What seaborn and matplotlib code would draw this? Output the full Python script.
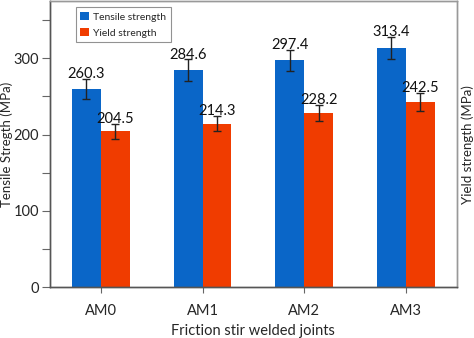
import matplotlib
matplotlib.use("Agg")
import matplotlib.pyplot as plt
from matplotlib.ticker import MultipleLocator
import seaborn as sns
import pandas as pd

# Joint designations and measured strengths (MPa)
joints = ["AM0", "AM1", "AM2", "AM3"]
tensile = [260.3, 284.6, 297.4, 313.4]
tensile_err = [13, 14, 14, 15]
yield_s = [204.5, 214.3, 228.2, 242.5]
yield_err = [10, 10, 11, 12]
series = ["Tensile strength", "Yield strength"]
colors = ["#0A66C8", "#F03C00"]

df = pd.DataFrame({
    "joint": joints * 2,
    "strength": tensile + yield_s,
    "series": [series[0]] * 4 + [series[1]] * 4,
})

sns.set_theme(style="white")
plt.rcParams["font.family"] = ["Lato", "DejaVu Sans"]

fig = plt.figure(figsize=(4.74, 3.38), dpi=100)
ax = fig.add_axes([0.1055, 0.150, 0.858, 0.847])

sns.barplot(data=df, x="joint", y="strength", hue="series", order=joints,
            hue_order=series, palette=colors, width=0.57, errorbar=None,
            saturation=1, linewidth=0, edgecolor="none", ax=ax)

# error bars and value labels on each bar
for cont, vals, errs in zip(ax.containers, [tensile, yield_s], [tensile_err, yield_err]):
    for bar, v, e in zip(cont, vals, errs):
        cx = bar.get_x() + bar.get_width() / 2
        ax.errorbar(cx, v, yerr=e, fmt="none", ecolor="#222222",
                    elinewidth=1.0, capsize=3, capthick=1.0, zorder=3)
        ax.text(cx, v + e + 1, f"{v:.1f}", ha="center", va="baseline",
                fontsize=10.5, color="#111111", zorder=4)

ax.set_ylim(0, 375)
ax.set_xlim(-0.5, 3.5)
ax.yaxis.set_major_locator(MultipleLocator(100))
ax.yaxis.set_minor_locator(MultipleLocator(50))
ax.tick_params(axis="y", which="both", direction="out", length=6, width=0.8,
               color="#666666", left=True, labelsize=10.5, pad=2)
ax.tick_params(axis="x", direction="out", length=4, width=0.8,
               color="#666666", bottom=True, labelsize=10.5, pad=8)

ax.set_xlabel("Friction stir welded joints", fontsize=10.5, labelpad=4)
ax.set_ylabel("Tensile Stregth (MPa)", fontsize=9.5)
ax.yaxis.set_label_coords(-0.092, 0.5)

ax2 = ax.twinx()
ax2.set_ylim(0, 375)
ax2.set_yticks([])
ax2.set_ylabel("Yield strength (MPa)", fontsize=9.5)
ax2.yaxis.set_label_coords(1.012, 0.5)

for a in (ax, ax2):
    for name, sp in a.spines.items():
        sp.set_linewidth(1.0)
        sp.set_color("#555555" if name in ("left", "bottom") else "#999999")

leg = ax.legend(loc="upper left", bbox_to_anchor=(0.058, 0.985), fontsize=7.5,
                frameon=True, fancybox=False, edgecolor="#777777",
                handlelength=0.8, handleheight=0.8, handletextpad=0.4,
                borderpad=0.45, labelspacing=0.6, borderaxespad=0.2)
leg.get_frame().set_linewidth(0.8)

fig.savefig("out.png", dpi=100)
